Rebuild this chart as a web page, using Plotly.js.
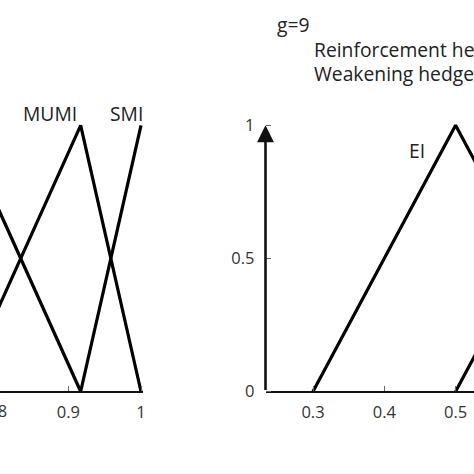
<!DOCTYPE html>
<html>
<head>
<meta charset="utf-8">
<script src="https://cdn.plot.ly/plotly-3.0.1.min.js"></script>
<style>
html,body{margin:0;padding:0;background:#fff;}
#chart{width:474px;height:474px;}
</style>
</head>
<body>
<div id="chart"></div>
<script>
// ---------- data ----------
// left panel membership functions
const miX   = [0.752, 0.917];
const miY   = [1, 0];
const mumiX = [0.752, 0.917, 1.0];
const mumiY = [0, 1, 0];
const smiX  = [0.917, 1.0];
const smiY  = [0, 1];
// right panel membership functions
const eiX   = [0.3, 0.5, 0.7];
const eiY   = [0, 1, 0];
const nextX = [0.5, 0.7, 0.9];
const nextY = [0, 1, 0];
// tick labels
const leftTicks      = [0.8, 0.9, 1];
const leftTickText   = ['0.8', '0.9', '1'];
const rightTicks     = [0.3, 0.4, 0.5];
const rightTickText  = ['0.3', '0.4', '0.5'];
const yTicks         = [0, 0.5, 1];
const yTickText      = ['0', '0.5', '1'];
// text labels
const labelMUMI = 'MUMI';
const labelSMI  = 'SMI';
const labelEI   = 'EI';
const labelG    = 'g=9';
const legendLine1 = 'Reinforcement hedges';
const legendLine2 = 'Weakening hedges';

// ---------- layout geometry (pixels) ----------
const W = 474, H = 474;
const y0px = 391.5, y1px = 125.3, kY = y0px - y1px;
const yRange = [-0.04, 1.05];
const yDomain = [1 - (y0px - yRange[0]*kY)/H, 1 - (y0px - yRange[1]*kY)/H];
const axisPos = 1 - y0px/H;

// left x axis: 0.9 at 68.3px, 727 px per unit, domain 0..143 px
const L09 = 68.3, Lk = 727, Lend = 143;
const leftRange = [0.9 + (0 - L09)/Lk, 0.9 + (Lend - L09)/Lk];
// right x axis: 0.3 at 313px, 713 px per unit, domain 265.5..474 px
const R03 = 313, Rk = 713, Rstart = 265.5;
const rightRange = [0.3 + (Rstart - R03)/Rk, 0.3 + (W - R03)/Rk];

const FONT = 'Open Sans, Noto Sans, sans-serif';
const lineStyle = {color: '#000', width: 3.2};

const traces = [
  {x: miX, y: miY, xaxis: 'x', yaxis: 'y', mode: 'lines', line: lineStyle, hoverinfo: 'skip'},
  {x: mumiX, y: mumiY, xaxis: 'x', yaxis: 'y', mode: 'lines', line: lineStyle, hoverinfo: 'skip'},
  {x: smiX, y: smiY, xaxis: 'x', yaxis: 'y', mode: 'lines', line: lineStyle, hoverinfo: 'skip'},
  {x: eiX, y: eiY, xaxis: 'x2', yaxis: 'y', mode: 'lines', line: lineStyle, hoverinfo: 'skip'},
  {x: nextX, y: nextY, xaxis: 'x2', yaxis: 'y', mode: 'lines', line: lineStyle, hoverinfo: 'skip'}
];

const tickFont = {family: FONT, size: 16.5, color: '#333'};
const xCommon = {
  anchor: 'free', position: axisPos,
  showline: true, linecolor: '#111', linewidth: 2.5,
  showgrid: false, zeroline: false,
  ticks: 'inside', ticklen: 5, tickwidth: 1, tickcolor: '#666',
  tickmode: 'array', tickfont: tickFont, ticklabelstandoff: 5,
  fixedrange: true
};

// label text for the left axis tick that falls just outside the crop
const l08px = L09 + (leftTicks[0] - 0.9)*Lk;

const txt = (s, px, py, anchor) => ({
  text: s, xref: 'paper', yref: 'paper',
  x: px / W, y: 1 - py / H,
  xanchor: anchor || 'center', yanchor: 'middle',
  showarrow: false, font: {family: FONT, size: 19.3, color: '#222'}
});

const layout = {
  width: W, height: H,
  margin: {l: 0, r: 0, t: 0, b: 0, pad: 0},
  paper_bgcolor: '#fff', plot_bgcolor: 'rgba(0,0,0,0)',
  showlegend: false,
  hovermode: false,
  xaxis: Object.assign({}, xCommon, {
    domain: [0, Lend / W], range: leftRange,
    tickvals: leftTicks, ticktext: leftTickText
  }),
  xaxis2: Object.assign({}, xCommon, {
    domain: [Rstart / W, 1], range: rightRange,
    tickvals: rightTicks, ticktext: rightTickText
  }),
  yaxis: {
    anchor: 'x2', domain: yDomain, range: yRange,
    showline: false, showgrid: false, zeroline: false,
    ticks: 'inside', ticklen: 5, tickwidth: 1, tickcolor: '#666',
    tickmode: 'array', tickvals: yTicks, ticktext: yTickText,
    tickfont: tickFont, ticklabelstandoff: 10,
    fixedrange: true
  },
  annotations: [
    // y axis drawn as an arrow from 0 up to 1
    {
      xref: 'x2', yref: 'y', axref: 'x2', ayref: 'y',
      x: rightRange[0], y: yTicks[2], ax: rightRange[0], ay: yTicks[0],
      text: '', font: {size: 1},
      showarrow: true, arrowhead: 2, arrowsize: 1.3, arrowwidth: 2.6, arrowcolor: '#111',
      standoff: 0, startstandoff: 0
    },
    {
      text: leftTickText[0], xref: 'paper', yref: 'paper',
      x: l08px / W, y: 1 - 410 / H, xanchor: 'center', yanchor: 'middle',
      showarrow: false, font: tickFont
    },
    txt(labelMUMI, 49.7, 114),
    txt(labelSMI, 126.7, 114),
    txt(labelEI, 416.7, 150),
    txt(labelG, 293.3, 24),
    txt(legendLine1, 311.7, 49.5, 'left'),
    txt(legendLine2, 311.7, 74, 'left')
  ]
};

Plotly.newPlot('chart', traces, layout, {displayModeBar: false, staticPlot: true});
</script>
</body>
</html>
